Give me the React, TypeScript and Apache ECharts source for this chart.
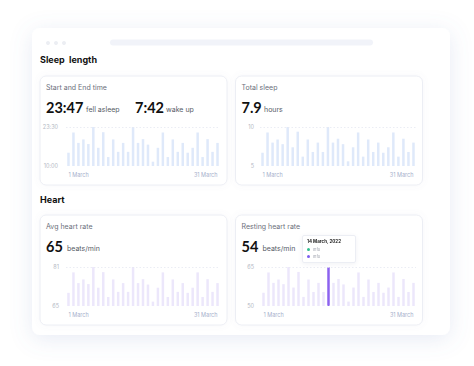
import React, { useEffect, useRef } from "react";
import * as echarts from "echarts";

const days = [
  "1 March", "2 March", "3 March", "4 March", "5 March", "6 March", "7 March", "8 March",
  "9 March", "10 March", "11 March", "12 March", "13 March", "14 March", "15 March", "16 March",
  "17 March", "18 March", "19 March", "20 March", "21 March", "22 March", "23 March", "24 March",
  "25 March", "26 March", "27 March", "28 March", "29 March", "30 March", "31 March",
];

// Start and End time (hours, axis 10:00 .. 23:30)
const sleepTime = [14.6, 21.6, 18.0, 19.2, 17.6, 23.5, 16.3, 21.7, 13.1, 19.2, 14.9, 18.0, 14.9, 23.5, 18.0, 19.3,
  17.4, 11.5, 16.3, 21.6, 13.1, 19.2, 14.9, 18.0, 14.6, 16.3, 21.6, 13.1, 19.3, 14.9, 18.0];
// Total sleep (hours)
const totalSleep = [6.7, 9.3, 8.0, 8.4, 7.8, 10, 7.4, 9.4, 6.2, 8.4, 6.8, 8.0, 6.8, 10, 8.0, 8.5,
  7.8, 5.6, 7.4, 9.3, 6.2, 8.4, 6.8, 8.0, 6.7, 7.4, 9.3, 6.2, 8.5, 6.8, 8.0];
// Avg heart rate
const avgHeart = [70.4, 78.8, 74.4, 75.9, 74.0, 81, 72.5, 78.9, 68.7, 75.9, 70.8, 74.4, 70.8, 81, 74.4, 76.0,
  73.8, 66.8, 72.5, 78.8, 68.7, 75.9, 70.8, 74.4, 70.4, 72.5, 78.8, 68.7, 76.0, 70.8, 74.4];
// Resting heart rate
const restHeart = [55.1, 62.9, 58.9, 60.2, 58.4, 65, 57.1, 63.1, 53.5, 60.2, 55.4, 58.9, 55.4, 65, 58.9, 60.4,
  58.3, 51.7, 57.1, 62.9, 53.5, 60.2, 55.4, 58.9, 55.1, 57.1, 62.9, 53.5, 60.4, 55.4, 58.9];

const axisRanges = [
  [10, 23.5],
  [5, 10],
  [65, 81],
  [50, 65],
];
const highlightIndex = 13;
const tooltipYear = "2022";

const FONT = "Inter, 'Noto Sans', sans-serif";
const BIG_FONT = "Lato, Inter, sans-serif";

function fmtTime(v: number) {
  const h = Math.floor(v);
  const m = Math.round((v - h) * 60);
  return `${h}:${m < 10 ? "0" + m : m}`;
}

export default function App() {
  const ref = useRef<HTMLDivElement>(null);
  useEffect(() => {
    if (!ref.current) return;
    const chart = echarts.init(ref.current, null, { renderer: "svg" });

    const grids = [
      { left: 66, top: 127, width: 154, height: 39 },
      { left: 260, top: 127, width: 156, height: 39 },
      { left: 66, top: 267, width: 154, height: 39 },
      { left: 261, top: 267, width: 155, height: 39 },
    ];
    const yMargins = [8, 6, 7, 7];
    const barColors = ["#dfe9fa", "#dfe9fa", "#ece7fb", "#ece7fb"];
    const seriesData = [sleepTime, totalSleep, avgHeart, restHeart];

    const text = (x: number, y: number, t: string, size: number, color: string, weight: any = "normal", family = FONT) => ({
      type: "text",
      x,
      y,
      z: 5,
      style: { text: t, fontSize: size, fill: color, fontWeight: weight, fontFamily: family, textVerticalAlign: "middle" },
    });
    const big = (x: number, y: number, t: string) => text(x, y, t, 14.5, "#111111", "bold", BIG_FONT);
    const card = (x: number, y: number, w: number, h: number) => ({
      type: "rect",
      z: -5,
      shape: { x, y, width: w, height: h, r: 6 },
      style: { fill: "#ffffff", stroke: "#eceef4", lineWidth: 1, shadowBlur: 6, shadowColor: "rgba(120,130,170,0.06)" },
    });

    const graphic: any[] = [
      {
        type: "rect",
        z: -10,
        shape: { x: 32, y: 28, width: 418, height: 307, r: 8 },
        style: { fill: "#ffffff", shadowBlur: 22, shadowOffsetY: 4, shadowColor: "rgba(110,130,190,0.16)" },
      },
      { type: "circle", z: -4, shape: { cx: 48, cy: 43, r: 2 }, style: { fill: "#eceef3" } },
      { type: "circle", z: -4, shape: { cx: 56, cy: 43, r: 2 }, style: { fill: "#eceef3" } },
      { type: "circle", z: -4, shape: { cx: 64, cy: 43, r: 2 }, style: { fill: "#eceef3" } },
      { type: "rect", z: -4, shape: { x: 110, y: 39.5, width: 263, height: 6, r: 3 }, style: { fill: "#f1f3f9" } },
      text(40, 59.5, "Sleep  length", 9, "#111111", "bold"),
      text(40, 199, "Heart", 9, "#111111", "bold"),
      card(40, 76, 187, 109),
      card(235.5, 76, 187, 109),
      card(40, 215, 187, 110),
      card(235.5, 215, 187, 110),
      text(46, 87.5, "Start and End time", 7, "#6b6f7b"),
      big(46, 107.5, "23:47"),
      text(86, 109, "fell asleep", 7, "#555a66"),
      big(135, 107.5, "7:42"),
      text(166, 109, "wake up", 7, "#555a66"),
      text(241.5, 87.5, "Total sleep", 7, "#6b6f7b"),
      big(241.5, 107.5, "7.9"),
      text(264, 109, "hours", 7, "#555a66"),
      text(46, 226.5, "Avg heart rate", 7, "#6b6f7b"),
      big(46, 246.5, "65"),
      text(67, 248, "beats/min", 7, "#555a66"),
      text(241.5, 226.5, "Resting heart rate", 7, "#6b6f7b"),
      big(241.5, 246.5, "54"),
      text(262.5, 248, "beats/min", 7, "#555a66"),
    ];

    const option: any = {
      animation: false,
      textStyle: { fontFamily: FONT },
      graphic,
      grid: grids,
      tooltip: {
        trigger: "item",
        triggerOn: "none",
        alwaysShowContent: true,
        transitionDuration: 0,
        backgroundColor: "#ffffff",
        borderColor: "#eceef4",
        borderWidth: 1,
        padding: [4, 6, 3, 4],
        extraCssText: "box-shadow:0 1px 4px rgba(80,90,130,0.08);border-radius:2px;width:42px;",
        position: (point: any, params: any, dom: any, rect: any, size: any) => {
          const p = chart.convertToPixel({ seriesIndex: params.seriesIndex }, [params.dataIndex, params.value]);
          return [p[0] - size.contentSize[0] / 2, p[1] - size.contentSize[1] - 4];
        },
        formatter: (params: any) => {
          const dot = (c: string) =>
            `<span style="display:inline-block;width:3px;height:3px;border-radius:50%;background:${c};margin-right:3px;vertical-align:middle"></span>`;
          return `<div style="font-family:${FONT};line-height:1">` +
            `<div style="font-size:4.5px;font-weight:700;color:#222;margin-bottom:3px">${params.name}, ${tooltipYear}</div>` +
            `<div style="font-size:4px;color:#9a9eaa;margin-bottom:3px">${dot("#2fbf8f")}Info</div>` +
            `<div style="font-size:4px;color:#9a9eaa">${dot("#7b5cf0")}Info</div></div>`;
        },
      },
      xAxis: grids.map((g, i) => ({
        type: "category",
        gridIndex: i,
        data: days,
        z: 10,
        axisLine: { show: false },
        axisTick: { show: false },
        axisLabel: {
          interval: (idx: number) => idx === 0 || idx === days.length - 1,
          fontSize: 5.5,
          color: "#a6b0cc",
          margin: 6,
          alignMinLabel: "left",
          alignMaxLabel: "right",
          fontFamily: FONT,
        },
      })),
      yAxis: grids.map((g, i) => ({
        type: "value",
        gridIndex: i,
        z: 10,
        min: axisRanges[i][0],
        max: axisRanges[i][1],
        axisLine: { show: false },
        axisTick: { show: false },
        splitLine: { show: false },
        axisLabel: {
          showMinLabel: true,
          showMaxLabel: true,
          fontSize: 5.5,
          color: "#b4b8c4",
          margin: yMargins[i],
          fontFamily: FONT,
          formatter: (v: number) =>
            v === axisRanges[i][0] || v === axisRanges[i][1] ? (i === 0 ? fmtTime(v) : String(v)) : "",
        },
      })),
      series: seriesData.map((d, i) => ({
        type: "bar",
        xAxisIndex: i,
        yAxisIndex: i,
        barWidth: 2.5,
        z: 3,
        itemStyle: { color: barColors[i] },
        data:
          i === 3
            ? d.map((v, k) =>
                k === highlightIndex
                  ? { value: v, itemStyle: { color: "#8c62ef", borderRadius: 1 } }
                  : v
              )
            : d,
        markLine: {
          silent: true,
          symbol: "none",
          label: { show: false },
          lineStyle: { type: [1.5, 2], color: "#e6e9f1", width: 0.8 },
          data: [{ yAxis: axisRanges[i][1] }],
        },
      })),
    };

    chart.setOption(option);
    chart.dispatchAction({ type: "showTip", seriesIndex: 3, dataIndex: highlightIndex });
    return () => chart.dispose();
  }, []);

  return (
    <div
      ref={ref}
      style={{ position: "absolute", left: 0, top: 0, width: 474, height: 366, background: "#ffffff" }}
    />
  );
}
